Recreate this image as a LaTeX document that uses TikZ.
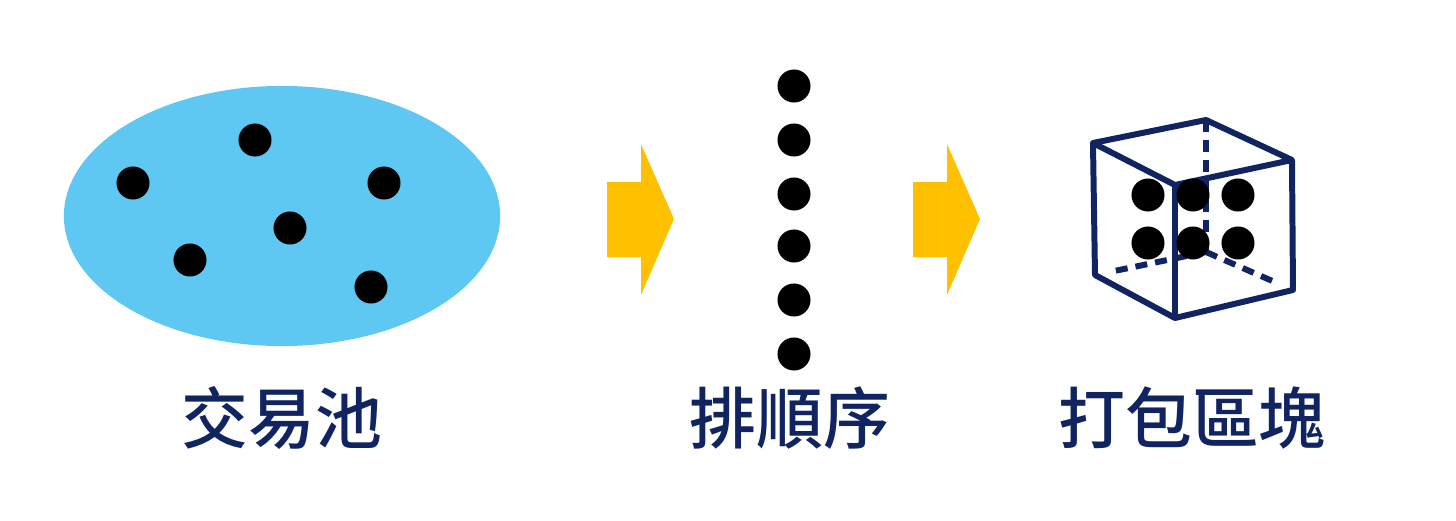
\documentclass[tikz,border=0pt]{standalone}
\usepackage{fontspec}
\newfontfamily\cjk{Noto Sans CJK TC Medium}
\usepackage{xcolor}
\usetikzlibrary{backgrounds, positioning, shapes.geometric, calc}
\definecolor{poolblue}{HTML}{5EC8F2}
\definecolor{arrowyellow}{HTML}{FFC000}
\definecolor{navy}{HTML}{102462}
\tikzset{
  tx/.style={circle, fill=black, inner sep=0pt, minimum size=0.33cm},
  label text/.style={text=navy, font=\cjk\fontsize{19pt}{19pt}\selectfont},
  cube edge/.style={navy, line width=1.7pt, line join=round},
  hidden edge/.style={navy, line width=1.7pt, dash pattern=on 0.12cm off 0.08cm},
  flow/.style={fill=arrowyellow}
}

\begin{document}
\begin{tikzpicture}[x=0.01cm, y=-0.01cm]
\useasboundingbox (0,0) rectangle (1456,521);

% transaction pool
\node[ellipse, fill=poolblue, minimum width=4.36cm, minimum height=2.6cm, inner sep=0pt] (pool) at (282,216) {};
\foreach \x/\y [count=\i] in {133/183, 255/140, 384/183, 290/228, 190/260, 371/287}
  \node[tx] (p\i) at (\x,\y) {};
\node[label text] (poolname) at (282,418) {交易池};

% arrows
\foreach \dx [count=\i] in {0,306}
  \fill[flow] (607+\dx,182) -- (641+\dx,182) -- (641+\dx,144) -- (674+\dx,219)
    -- (641+\dx,295) -- (641+\dx,257) -- (607+\dx,257) -- cycle;

% ordering
\foreach \y [count=\i] in {86,140,194,246,300,354}
  \node[tx] (s\i) at (794,\y) {};
\node[label text] (sortname) at (790,418) {排順序};

% block
\coordinate (tl) at (1093,143);
\coordinate (tb) at (1206,120);
\coordinate (tr) at (1292,160);
\coordinate (tf) at (1175,185);
\coordinate (bl) at (1095,275);
\coordinate (bf) at (1175,318);
\coordinate (br) at (1293,290);
\coordinate (hb) at (1206,252);
\draw[hidden edge] (tb) -- (hb);
\draw[hidden edge] (hb) -- ($(hb)!0.86!(bl)$);
\draw[hidden edge] (hb) -- ($(hb)!0.82!(br)$);
\draw[cube edge] (tl) -- (tb) -- (tr) -- (br) -- (bf) -- (bl) -- cycle;
\draw[cube edge] (tl) -- (tf) -- (tr);
\draw[cube edge] (tf) -- (bf);
\foreach \x/\y [count=\i] in {1148/195, 1193/195, 1238/195, 1148/243, 1193/243, 1238/243}
  \node[tx] (b\i) at (\x,\y) {};
\node[label text] (blockname) at (1192,418) {打包區塊};
\end{tikzpicture}
\end{document}
